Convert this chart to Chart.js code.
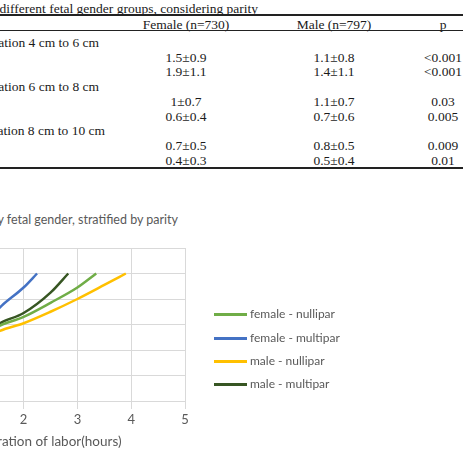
<!DOCTYPE html>
<html>
<head>
<meta charset="utf-8">
<script src="https://cdn.jsdelivr.net/npm/chart.js@4"></script>
<style>
body{margin:0;width:474px;height:474px;overflow:hidden;background:#fff;position:relative}
.t{position:absolute;font-family:"Liberation Serif","Times New Roman",serif;font-size:13.5px;color:#1a1a1a;white-space:nowrap;line-height:15px}
.c{transform:translateX(-50%)}
.rule{position:absolute;left:0;width:463px;background:#222}
#wrap{position:absolute;left:-140px;top:200px;width:614px;height:260px}
#ttl{position:absolute;right:296px;top:212px;font-family:Lato,"Open Sans",sans-serif;font-size:12.5px;color:#595959;white-space:nowrap}
.lg{position:absolute;left:214px;font-family:Lato,"Open Sans",sans-serif;font-size:12px;color:#595959;white-space:nowrap}
.lg i{display:inline-block;width:33px;height:3px;vertical-align:middle;margin-right:3px}
</style>
</head>
<body>
<div id="tbl"></div>
<div id="ttl">Duration of labor by fetal gender, stratified by parity</div>
<div id="wrap"><canvas id="c"></canvas></div>
<div id="leg"></div>
<script>
// table
let headers = ['Female (n=730)', 'Male (n=797)', 'p'];
let sections = ['Cervical dilatation 4 cm to 6 cm', 'Cervical dilatation 6 cm to 8 cm', 'Cervical dilatation 8 cm to 10 cm'];
let female = ['1.5±0.9', '1.9±1.1', '1±0.7', '0.6±0.4', '0.7±0.5', '0.4±0.3'];
let male = ['1.1±0.8', '1.4±1.1', '1.1±0.7', '0.7±0.6', '0.8±0.5', '0.5±0.4'];
let pvals = ['<0.001', '<0.001', '0.03', '0.005', '0.009', '0.01'];

// chart
let labels = ['female - nullipar', 'female - multipar', 'male - nullipar', 'male - multipar'];
let colors = ['#70ad47', '#4472c4', '#ffc000', '#375623'];
let hours1 = [1.0, 1.5, 2.0, 2.5, 3.0, 3.35];
let dil1 = [4.4, 5.8, 6.6, 7.7, 8.9, 10];
let hours2 = [0.9, 1.3, 1.6, 2.0, 2.25];
let dil2 = [4, 6.2, 7.5, 8.9, 10];
let hours3 = [1.0, 1.56, 2.0, 2.5, 3.0, 3.5, 3.9];
let dil3 = [4.2, 5.5, 6.1, 7.0, 8.0, 9.1, 10];
let hours4 = [1.0, 1.56, 2.0, 2.5, 2.83];
let dil4 = [4.5, 6.1, 6.9, 8.5, 10];

let tbl = document.getElementById('tbl');
let h = '';
h += '<div class="t" style="right:216px;top:1px">Table 2. Duration of labor stages in different fetal gender groups, considering parity</div>';
h += '<div class="rule" style="top:14px;height:2px"></div>';
h += '<div class="t c" style="left:186px;top:17px">' + headers[0] + '</div>';
h += '<div class="t c" style="left:334px;top:17px">' + headers[1] + '</div>';
h += '<div class="t c" style="left:443px;top:17px">' + headers[2] + '</div>';
h += '<div class="rule" style="top:30px;height:1px"></div>';
let secEnd = [99, 99, 105];
let y = 35;
for (let s = 0; s < 3; s++) {
    h += '<div class="t" style="right:' + (474 - secEnd[s]) + 'px;top:' + y + 'px">' + sections[s] + '</div>';
    y += 14.7;
    for (let k = 0; k < 2; k++) {
        let i = s * 2 + k;
        h += '<div class="t c" style="left:186px;top:' + y + 'px">' + female[i] + '</div>';
        h += '<div class="t c" style="left:334px;top:' + y + 'px">' + male[i] + '</div>';
        h += '<div class="t c" style="left:443px;top:' + y + 'px">' + pvals[i].replace('<', '&lt;') + '</div>';
        y += 14.7;
    }
}
h += '<div class="rule" style="top:167px;height:2px"></div>';
tbl.innerHTML = h;

let leg = document.getElementById('leg');
let legTop = [306, 330, 353, 376];
leg.innerHTML = labels.map((l, i) =>
    '<div class="lg" style="top:' + legTop[i] + 'px"><i style="background:' + colors[i] + '"></i>' + l + '</div>').join('');

let xs = [hours1, hours2, hours3, hours4];
let ys = [dil1, dil2, dil3, dil4];

let chart = new Chart(document.getElementById('c').getContext('2d'), {
    type: 'line',
    data: {
        datasets: labels.map((l, i) => ({
            label: l,
            data: xs[i].map((x, j) => ({x: x, y: ys[i][j]})),
            borderColor: colors[i],
            backgroundColor: colors[i],
            borderWidth: 2.5,
            pointRadius: 0,
            cubicInterpolationMode: 'monotone'
        }))
    },
    options: {
        responsive: true,
        maintainAspectRatio: false,
        animation: false,
        layout: {padding: {top: 48, right: 289, bottom: 6, left: 0}},
        plugins: {legend: {display: false}, tooltip: {enabled: false}},
        scales: {
            x: {
                type: 'linear', min: 0, max: 5,
                ticks: {stepSize: 1, color: '#595959', font: {family: 'Lato', size: 13}},
                grid: {color: '#d9d9d9'},
                border: {color: '#d9d9d9'},
                title: {display: true, text: 'Duration of labor(hours)', color: '#595959', font: {family: 'Lato', size: 13.5}},
                afterFit: s => { s.height = 53; }
            },
            y: {
                min: 0, max: 12,
                ticks: {stepSize: 2, color: '#595959', font: {family: 'Lato', size: 13}},
                grid: {color: '#d9d9d9'},
                border: {color: '#d9d9d9'},
                afterFit: s => { s.width = 56; }
            }
        }
    }
});
</script>
</body>
</html>
